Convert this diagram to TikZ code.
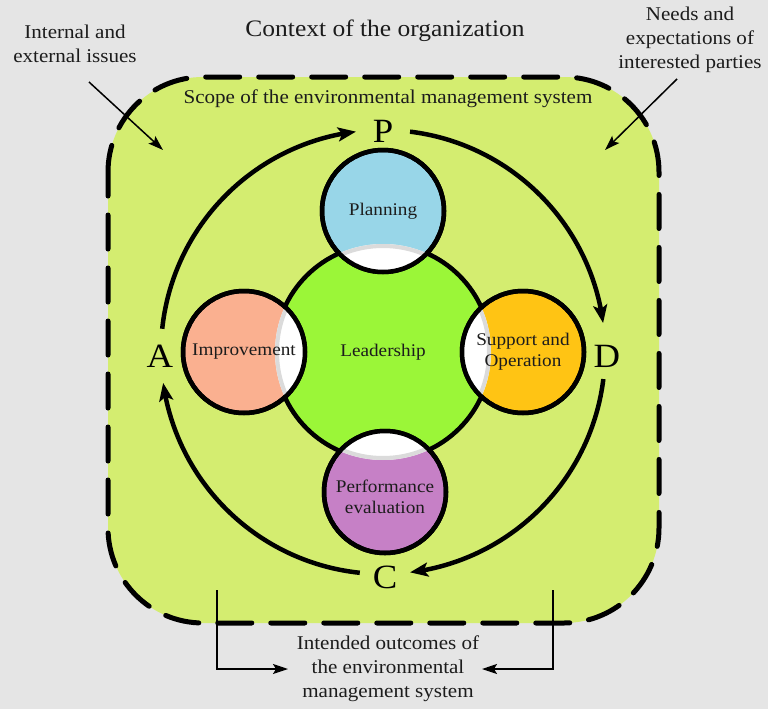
\documentclass[tikz,border=0pt]{standalone}
\usepackage{fontspec}
\setmainfont[FakeStretch=1.08]{Liberation Serif}
\usetikzlibrary{arrows.meta,bending,calc}
\definecolor{bggray}{RGB}{229,229,229}
\definecolor{scopegreen}{RGB}{212,237,112}
\definecolor{leadgreen}{RGB}{155,246,56}
\definecolor{planblue}{RGB}{152,214,232}
\definecolor{impsalmon}{RGB}{250,176,144}
\definecolor{suporange}{RGB}{255,196,20}
\definecolor{perfpurple}{RGB}{198,128,198}
\definecolor{txt}{RGB}{28,28,28}
\begin{document}
\begin{tikzpicture}[x=1pt,y=-1pt,
  sat/.style={circle, minimum size=122pt, inner sep=0pt, draw=black, line width=4.5pt},
  lbl/.style={align=center, text=txt, font=\fontsize{19.5}{24}\selectfont},
  ctext/.style={align=center, text=txt, font=\fontsize{17.8}{21}\selectfont},
  letter/.style={text=black, font=\fontsize{34}{34}\selectfont},
  cyc/.style={line width=4.5pt, -{Stealth[length=18pt,width=14pt,inset=4pt]}},
  thin/.style={line width=1.5pt, -{Stealth[length=15pt,width=10pt,inset=3pt]}}]
% background
\fill[bggray] (0,0) rectangle (768,709);
\useasboundingbox (0,0) rectangle (768,709);
% scope box
\draw[fill=scopegreen, line width=5pt, line cap=round, rounded corners=95pt, dash pattern=on 34pt off 19pt, dash phase=10pt]
  (108,77) rectangle (659,623);
% texts outside
\node[lbl, font=\fontsize{23.6}{28}\selectfont] (title) at (385,31) {Context of the organization};
\node[lbl] (issues) at (75,44) {Internal and\\external issues};
\node[lbl] (needs) at (690,40) {Needs and\\expectations of\\interested parties};
\node[lbl] (scope) at (388,99) {Scope of the environmental management system};
\node[lbl] (outcomes) at (388,669) {Intended outcomes of\\the environmental\\management system};
% small arrows top
\coordinate (i1) at (89,82);
\coordinate (i2) at (163,150);
\coordinate (n1) at (677,79);
\coordinate (n2) at (605,150);
\draw[thin] (i1) -- (i2);
\draw[thin] (n1) -- (n2);
% bottom connectors
\coordinate (bl) at (217,590);
\coordinate (blt) at (288,669);
\coordinate (br) at (553,590);
\coordinate (brt) at (482,669);
\draw[thin] (bl) |- (blt);
\draw[thin] (br) |- (brt);
% center
\coordinate (O) at (383,352);
% cycle arcs
\draw[cyc] ($(O)+(-174:222)$) arc[start angle=-174, end angle=-97, radius=222];
\draw[cyc] ($(O)+(-83:222)$) arc[start angle=-83, end angle=-7.5, radius=222];
\draw[cyc] ($(O)+(7:222)$) arc[start angle=7, end angle=83, radius=222];
\draw[cyc] ($(O)+(96:222)$) arc[start angle=96, end angle=172, radius=222];
\node[letter] (P) at (383,131) {P};
\node[letter] (D) at (607,356) {D};
\node[letter] (C) at (385,577) {C};
\node[letter] (A) at (160,356) {A};
% leadership
\node[circle, minimum size=216pt, inner sep=0pt, fill=leadgreen, draw=black, line width=4.5pt] (lead) at (O) {};
% satellites
\node[sat, fill=planblue] (plan) at (383,211) {};
\node[sat, fill=impsalmon] (imp) at (244,352) {};
\node[sat, fill=suporange] (sup) at (523,352) {};
\node[sat, fill=perfpurple] (perf) at (385,492) {};
% lenses
\foreach \s in {plan,imp,sup,perf}{
  \begin{scope}
    \clip (\s.center) circle[radius=61];
    \fill[white] (lead.center) circle[radius=108];
    \draw[black!14, line width=4pt] (lead.center) circle[radius=106];
  \end{scope}
  \draw[line width=4.5pt] (\s.center) circle[radius=61];
}
% circle texts
\node[ctext] (tplan) at (plan.center) {Planning};
\node[ctext] (tlead) at (lead.center) {Leadership};
\node[ctext] (timp) at (imp.center) {Improvement};
\node[ctext] (tsup) at (sup.center) {Support and\\Operation};
\node[ctext] (tperf) at ($(perf.center)+(0,5)$) {Performance\\evaluation};
\end{tikzpicture}
\end{document}
